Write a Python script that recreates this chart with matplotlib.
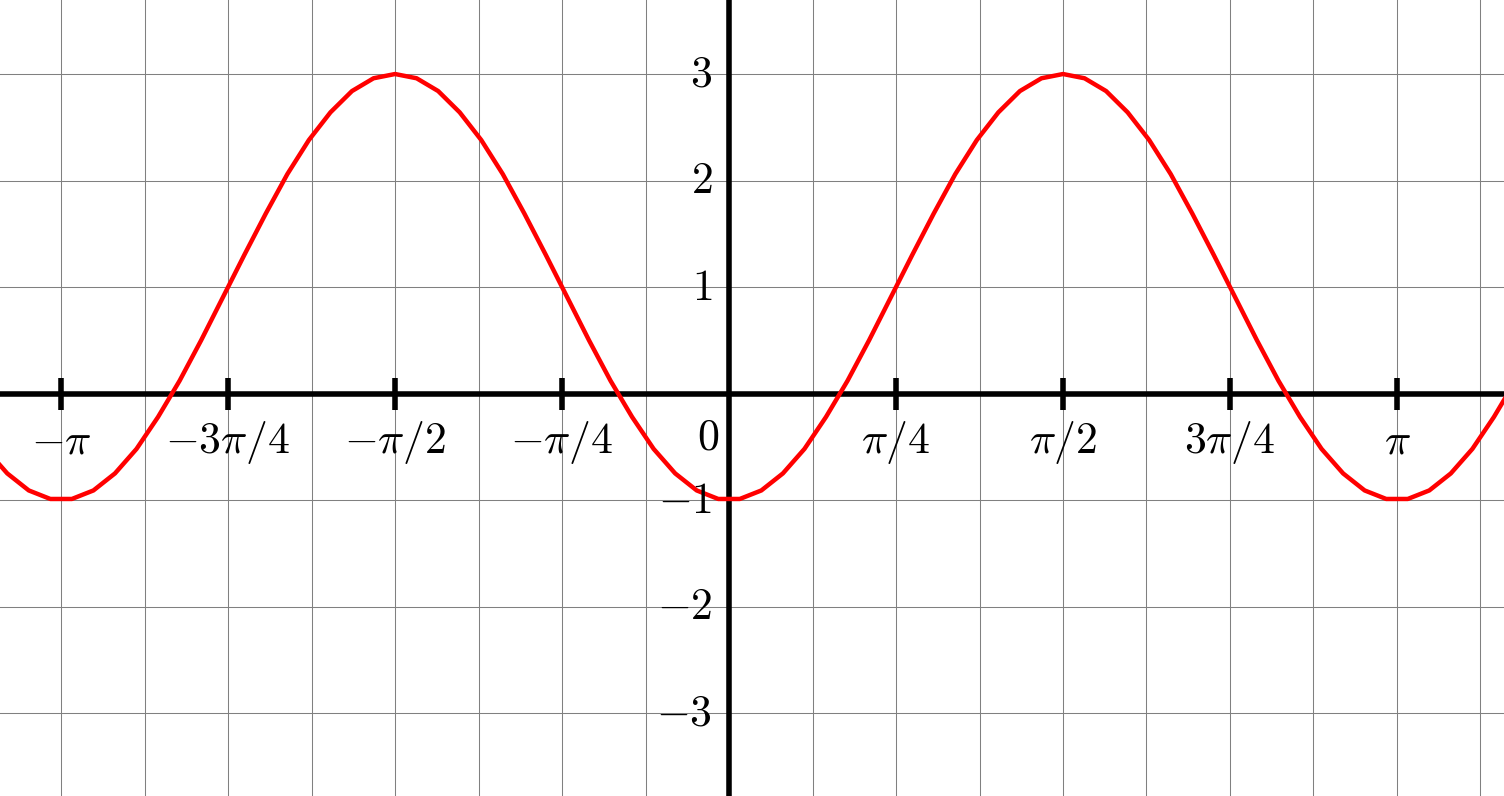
import numpy as np
import matplotlib
matplotlib.use("Agg")
import matplotlib.pyplot as plt

plt.rcParams['mathtext.fontset'] = 'cm'
plt.rcParams['font.family'] = ['DejaVu Serif']

# curve samples: vertex k sits at x = -pi/2 + k*pi/31, k = -19 .. 52
k_first, k_last = -19, 52
curve_y = [-0.52, -0.75, -0.91, -0.99, -0.99, -0.91, -0.75, -0.52, -0.22, 0.12,
           0.50, 0.90, 1.30, 1.69, 2.06, 2.38, 2.64, 2.84, 2.96,
           3.00, 2.96, 2.84, 2.64, 2.38, 2.06, 1.69, 1.30, 0.90, 0.50, 0.12,
           -0.22, -0.52, -0.75, -0.91, -0.99, -0.99, -0.91, -0.75, -0.52, -0.22,
           0.12, 0.50, 0.90, 1.30, 1.69, 2.06, 2.38, 2.64, 2.84, 2.96,
           3.00, 2.96, 2.84, 2.64, 2.38, 2.06, 1.69, 1.30, 0.90, 0.50, 0.12,
           -0.22, -0.52, -0.75, -0.91, -0.99, -0.99, -0.91, -0.75, -0.52, -0.22, 0.12]
curve_x = -np.pi / 2 + np.arange(k_first, k_last + 1) * np.pi / 31

x_ticks = [-np.pi, -3 * np.pi / 4, -np.pi / 2, -np.pi / 4, np.pi / 4, np.pi / 2, 3 * np.pi / 4, np.pi]
x_labels = [r'$-\pi$', r'$-3\pi/4$', r'$-\pi/2$', r'$-\pi/4$', r'$\pi/4$', r'$\pi/2$', r'$3\pi/4$', r'$\pi$']
y_ticks = [3, 2, 1, -1, -2, -3]
y_labels = [r'$3$', r'$2$', r'$1$', r'$-1$', r'$-2$', r'$-3$']

fig = plt.figure(figsize=(15.04, 7.96), dpi=100)
ax = fig.add_axes([0, 0, 1, 1])
ax.set_xlim(-3.429, 3.645)
ax.set_ylim(-3.779, 3.695)
ax.axis('off')

# grid: pi/8 vertically, 1 horizontally
for gx in np.arange(-27, 30) * np.pi / 8:
    ax.axvline(gx, color='#808080', lw=0.75, zorder=1)
for gy in range(-4, 5):
    ax.axhline(gy, color='#808080', lw=0.75, zorder=1)

# axes
ax.axhline(0, color='black', lw=4, zorder=2)
ax.axvline(0, color='black', lw=4, zorder=2)
ax.vlines(x_ticks, -0.155, 0.146, color='black', lw=4, zorder=2)

ax.plot(curve_x, curve_y, color='red', lw=3.2, zorder=3)

for xt, lbl in zip(x_ticks, x_labels):
    ax.annotate(lbl, (xt, 0), xytext=(0, -18.5), textcoords='offset points',
                ha='center', va='top', fontsize=31.5, zorder=4)
for yt, lbl in zip(y_ticks, y_labels):
    ax.annotate(lbl, (0, yt), xytext=(-12, 0), textcoords='offset points',
                ha='right', va='center', fontsize=31.5, zorder=4)
ax.annotate(r'$0$', (0, 0), xytext=(-7, -16), textcoords='offset points',
            ha='right', va='top', fontsize=31.5, zorder=4)

fig.savefig('out.png', dpi=100)
